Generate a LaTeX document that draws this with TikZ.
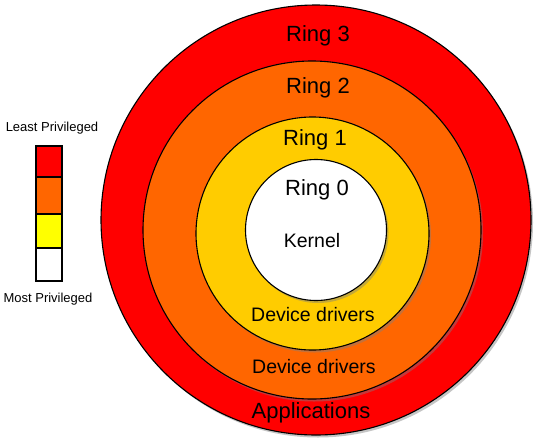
\documentclass[tikz,border=0pt]{standalone}
\usepackage{fontspec}
\setmainfont{Liberation Sans}
\usetikzlibrary{shadows}
\definecolor{ringred}{HTML}{FF0000}
\definecolor{ringorange}{HTML}{FF6600}
\definecolor{ringgold}{HTML}{FFCC00}
\definecolor{legyellow}{HTML}{FFFF00}
\tikzset{
  ring/.style={circle, draw=black, line width=1.1pt, inner sep=0pt,
    drop shadow={shadow xshift=2pt, shadow yshift=-2.5pt, opacity=0.45}},
  ringlabel/.style={font=\fontsize{22}{24}\selectfont, inner sep=0pt},
  textlabel/.style={font=\fontsize{19.5}{22}\selectfont, inner sep=0pt},
  leglabel/.style={font=\fontsize{13}{15}\selectfont, inner sep=0pt},
  legbox/.style={draw=black, line width=1.1pt}
}
\begin{document}
\begin{tikzpicture}[x=1pt, y=-1pt]
\useasboundingbox (0,0) rectangle (537,447);
\fill[white] (0,0) rectangle (537,447);
% rings
\node[ring, fill=ringred, minimum size=430pt] (r3) at (316,220) {};
\node[ring, fill=ringorange, minimum size=338pt] (r2) at (312,230) {};
\node[ring, fill=ringgold, minimum size=233pt] (r1) at (312.5,233.5) {};
\node[ring, fill=white, minimum size=141pt] (r0) at (316,230) {};
% ring labels
\node[ringlabel] (l3) at (318,36) {Ring 3};
\node[ringlabel] (l2) at (318,88) {Ring 2};
\node[ringlabel] (l1) at (315,140) {Ring 1};
\node[ringlabel] (l0) at (317,190) {Ring 0};
\node[textlabel] (kern) at (312,241) {Kernel};
\node[textlabel] (dd1) at (313,315) {Device drivers};
\node[textlabel] (dd2) at (314,367) {Device drivers};
\node[ringlabel] (apps) at (311,413) {Applications};
% legend
\node[leglabel] (least) at (52,128) {Least Privileged};
\node[leglabel] (most) at (48,299) {Most Privileged};
\filldraw[legbox, fill=ringred] (36,146) rectangle (62,177);
\filldraw[legbox, fill=ringorange] (36,177) rectangle (62,214);
\filldraw[legbox, fill=legyellow] (36,214) rectangle (62,248);
\filldraw[legbox, fill=white] (36,248) rectangle (62,281);
\end{tikzpicture}
\end{document}
